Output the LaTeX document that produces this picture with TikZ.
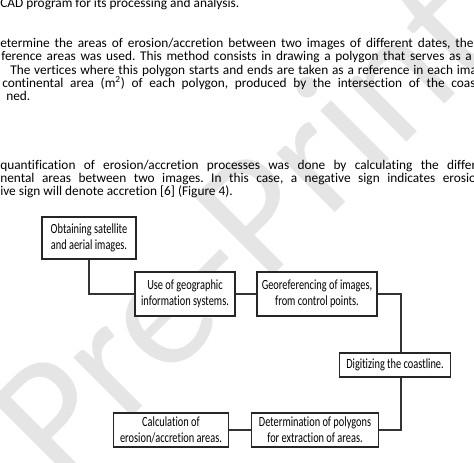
\documentclass[tikz,border=0pt]{standalone}
\usepackage{fontspec}
\setmainfont{Carlito}[Ligatures=NoCommon]
\newfontfamily\boxfont[FakeStretch=0.74,Ligatures=NoCommon]{Carlito}
\frenchspacing

\begin{document}
\begin{tikzpicture}[x=0.75pt,y=-0.75pt,
    stage/.style={draw=black!85,line width=0.8pt,fill=white,align=center,inner sep=0pt,
        font=\boxfont\fontsize{10.5}{12}\selectfont},
    link/.style={draw=black!80,line width=0.8pt},
    body/.style={anchor=base west,inner sep=0pt,font=\fontsize{10}{10}\selectfont}]
    \useasboundingbox (0,0) rectangle (474,462);
    \clip (0,0) rectangle (474,462);
    % watermark
    \node[rotate=45,text=black!10,font=\fontsize{130}{130}\selectfont] (mark) at (240,225) {Pre-Print};
    % text above the figure
    \node[body] (p1) at (0,7) {CAD program for its processing and analysis.};
    \node[body] (p2) at (0,47.5) {\makebox[355pt][s]{etermine the areas of erosion/accretion between two images of different dates, the}};
    \node[body] (p3) at (1,60.8) {\makebox[353pt][s]{ference areas was used. This method consists in drawing a polygon that serves as a}};
    \node[body] (p4) at (10,74) {\makebox[350pt][s]{The vertices where this polygon starts and ends are taken as a reference in each ima}};
    \node[body] (p5) at (2,87.3) {\makebox[355pt][s]{continental area (m\textsuperscript{2}) of each polygon, produced by the intersection of the coas}};
    \node[body] (p6) at (6,100.6) {ned.};
    \node[body] (p7) at (0,169) {\makebox[357pt][s]{quantification of erosion/accretion processes was done by calculating the differ}};
    \node[body] (p8) at (0,182.3) {\makebox[357pt][s]{nental areas between two images. In this case, a negative sign indicates erosio}};
    \node[body] (p9) at (0,195.6) {ive sign will denote accretion [6] (Figure 4).};
    % flow chart
    \node[stage,minimum width=70.5pt,minimum height=31.5pt] (obtain) at (89,238) {Obtaining satellite\\and aerial images.};
    \node[stage,minimum width=75pt,minimum height=33pt] (gis) at (185,294) {Use of geographic\\information systems.};
    \node[stage,minimum width=90pt,minimum height=33pt] (georef) at (317,294) {Georeferencing of images,\\from control points.};
    \node[stage,minimum width=83pt,minimum height=18pt] (digit) at (395,365) {Digitizing the coastline.};
    \node[stage,minimum width=95pt,minimum height=25.5pt] (polyg) at (315,430) {Determination of polygons\\for extraction of areas.};
    \node[stage,minimum width=86pt,minimum height=25.5pt] (calc) at (171,430) {Calculation of\\erosion/accretion areas.};
    \draw[link] (obtain.south) |- (gis.west);
    \draw[link] (gis) -- (georef);
    \draw[link] (georef.east) -| ([xshift=4.5pt]digit.north);
    \draw[link] ([xshift=4.5pt]digit.south) |- (polyg.east);
    \draw[link] (polyg) -- (calc);
\end{tikzpicture}
\end{document}
